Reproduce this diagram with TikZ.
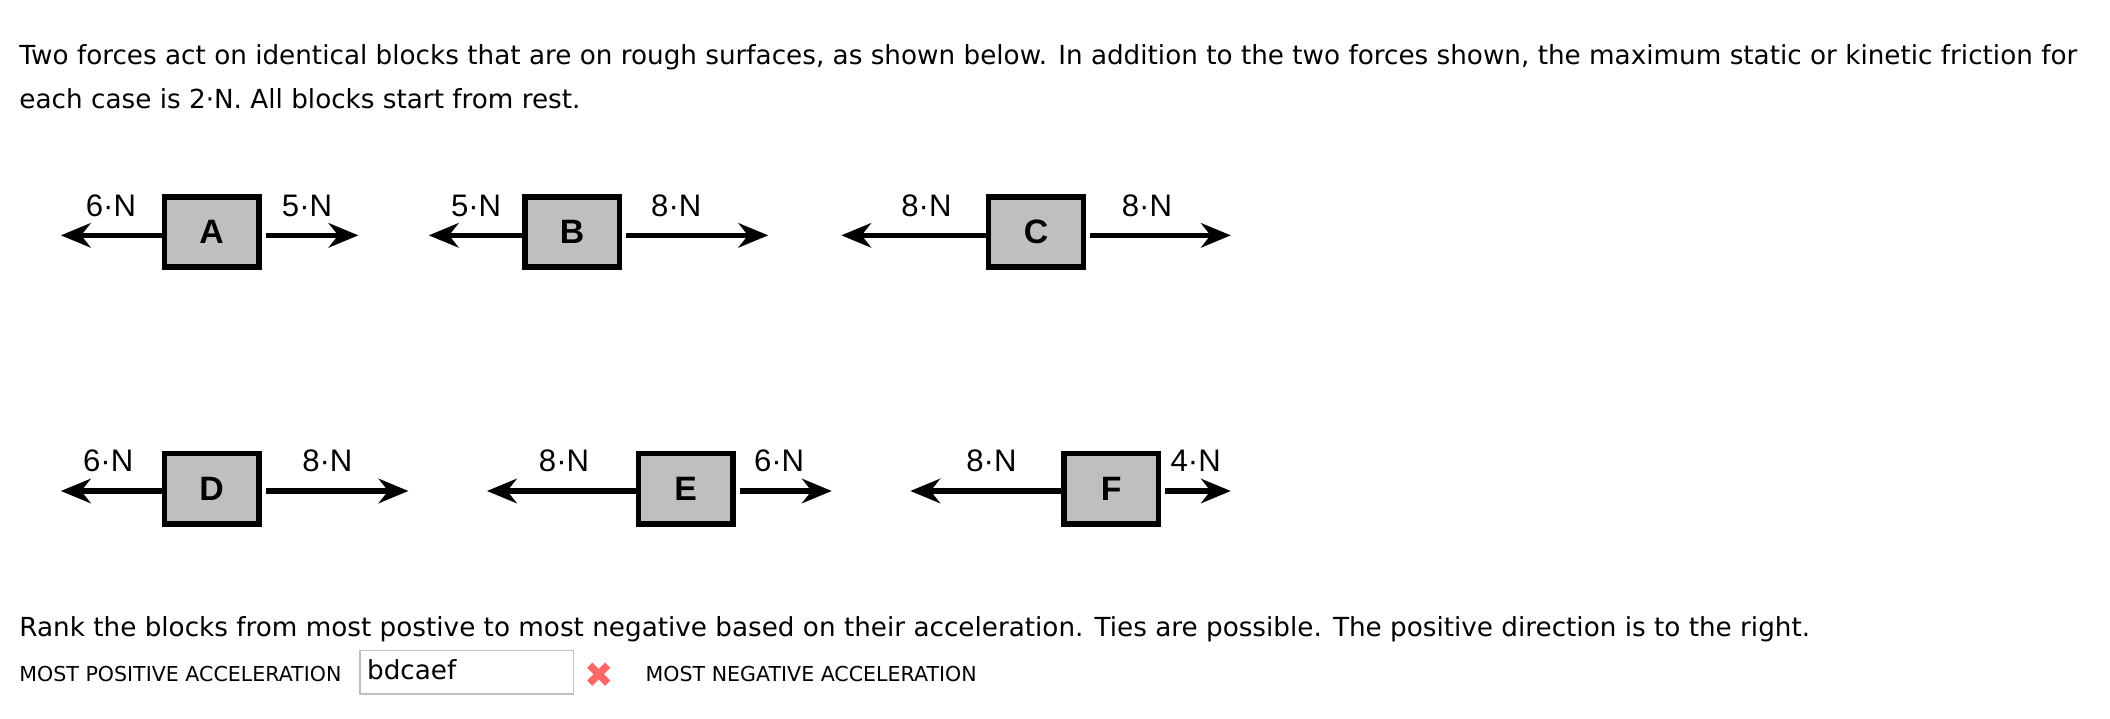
\documentclass[tikz,border=0pt]{standalone}
\usepackage{fontspec}
\setmainfont{DejaVu Sans}
\newfontfamily\lab{Liberation Sans}
\usetikzlibrary{arrows.meta}
\begin{document}
\begin{tikzpicture}[x=0.5pt,y=-0.5pt,
  blk/.style={draw,line width=2pt,fill=gray!50,minimum width=35pt,minimum height=26pt,font=\lab\bfseries\fontsize{12.5}{14}\selectfont,inner sep=0},
  force/.style={line width=2pt,-{Stealth[length=11pt,width=9pt,inset=3.5pt]}},
  flab/.style={font=\lab\fontsize{11.5}{13}\selectfont,inner sep=0},
  txt/.style={anchor=west,inner sep=0,font=\fontsize{9.7}{12}\selectfont},
  sml/.style={anchor=west,inner sep=0,font=\fontsize{7.6}{10}\selectfont}]
\useasboundingbox (0,0) rectangle (1560,531);
\node[txt] (t1) at (14,42) {Two forces act on identical blocks that are on rough surfaces, as shown below. In addition to the two forces shown, the maximum static or kinetic friction for};
\node[txt] (t2) at (14,73) {each case is 2·N. All blocks start from rest.};
\node[txt] (t3) at (14,465) {Rank the blocks from most postive to most negative based on their acceleration. Ties are possible. The positive direction is to the right.};
% row 1
\node[blk] (A) at (156.5,171.5) {A};
\coordinate (al) at (45,174); \coordinate (ar) at (265,174);
\draw[force] (A.west|-al) -- (al); \draw[force] (A.east|-ar) ++(3,0) -- (ar);
\node[flab] at (82,152) {6·N}; \node[flab] at (227,152) {5·N};
\node[blk] (B) at (423,171.5) {B};
\coordinate (bl) at (317,174); \coordinate (br) at (568,174);
\draw[force] (B.west|-bl) -- (bl); \draw[force] (B.east|-br) ++(3,0) -- (br);
\node[flab] at (352,152) {5·N}; \node[flab] at (500,152) {8·N};
\node[blk] (C) at (766,171.5) {C};
\coordinate (cl) at (622,174); \coordinate (cr) at (910,174);
\draw[force] (C.west|-cl) -- (cl); \draw[force] (C.east|-cr) ++(3,0) -- (cr);
\node[flab] at (685,152) {8·N}; \node[flab] at (848,152) {8·N};
% row 2
\node[blk] (D) at (156.5,361.5) {D};
\coordinate (dl) at (45,363); \coordinate (dr) at (302,363);
\draw[force] (D.west|-dl) -- (dl); \draw[force] (D.east|-dr) ++(3,0) -- (dr);
\node[flab] at (80,341) {6·N}; \node[flab] at (242,341) {8·N};
\node[blk] (E) at (507,361.5) {E};
\coordinate (el) at (360,363); \coordinate (er) at (615,363);
\draw[force] (E.west|-el) -- (el); \draw[force] (E.east|-er) ++(3,0) -- (er);
\node[flab] at (417,341) {8·N}; \node[flab] at (576,341) {6·N};
\node[blk] (F) at (821.5,361.5) {F};
\coordinate (fl) at (673,363); \coordinate (fr) at (910,363);
\draw[force] (F.west|-fl) -- (fl); \draw[force] (F.east|-fr) ++(3,0) -- (fr);
\node[flab] at (733,341) {8·N}; \node[flab] at (884,341) {4·N};
% answer row
\node[sml] (mp) at (14,498) {MOST POSITIVE ACCELERATION};
\node[draw=gray!50,line width=0.6pt,minimum width=79pt,minimum height=16pt,inner sep=0] (ans) at (345,497) {};
\node[anchor=west,inner sep=0,font=\fontsize{9.7}{12}\selectfont] (av) at (271,495) {bdcaef};
\node[text=red!60,font=\fontsize{13}{13}\selectfont,inner sep=0] (x) at (443,499) {✖};
\node[sml] (mn) at (477,498) {MOST NEGATIVE ACCELERATION};
\end{tikzpicture}
\end{document}
